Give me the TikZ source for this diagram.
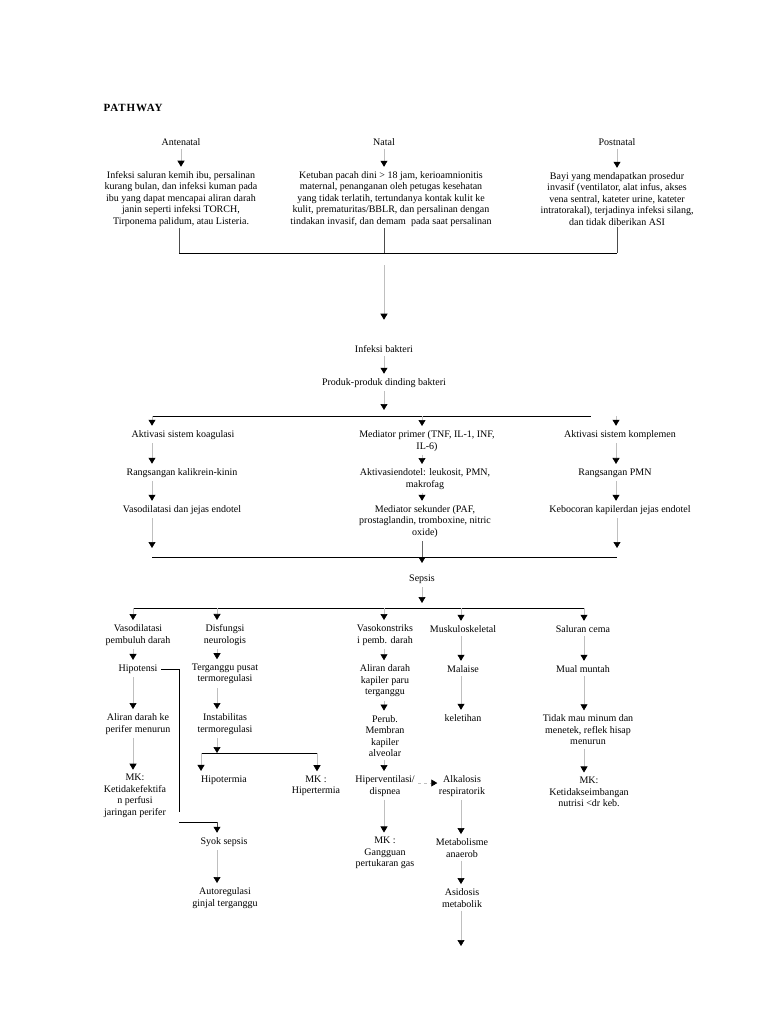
\documentclass[tikz,border=0pt]{standalone}
\usepackage{fontspec}
\setmainfont{Liberation Serif}
\usetikzlibrary{arrows.meta}
\begin{document}
\begin{tikzpicture}[x=1pt,y=-1pt,
  txt/.style={font=\fontsize{10}{11.5}\selectfont, align=center, inner sep=1.5pt},
  arr/.style={draw=black!25, line width=0.6pt, -{Triangle[length=6pt,width=7pt,fill=black,color=black]}, shorten >=3pt, shorten <=2pt},
  darr/.style={arr, dashed},
  bar/.style={draw=black, line width=0.9pt},
  vbar/.style={draw=black!70, line width=1pt},
]
\useasboundingbox[fill=white] (0,0) rectangle (768,1024);

% ---------- top ----------
\node[txt, font=\fontsize{11}{13}\selectfont\bfseries\addfontfeatures{LetterSpace=8}, anchor=west] (pw) at (102,108) {PATHWAY};

\node[txt] (ante)  at (181,142) {Antenatal};
\node[txt] (natal) at (384,142) {Natal};
\node[txt] (post)  at (617,142) {Postnatal};

\node[txt] (anteT) at (181,199) {Infeksi saluran kemih ibu, persalinan\\kurang bulan, dan infeksi kuman pada\\ibu yang dapat mencapai aliran darah\\janin seperti infeksi TORCH,\\Tirponema palidum, atau Listeria.};
\node[txt] (natalT) at (391,199) {Ketuban pacah dini > 18 jam, kerioamnionitis\\maternal, penanganan oleh petugas kesehatan\\yang tidak terlatih, tertundanya kontak kulit ke\\kulit, prematuritas/BBLR, dan persalinan dengan\\tindakan invasif, dan demam\ \ pada saat persalinan};
\node[txt] (postT) at (617,199) {Bayi yang mendapatkan prosedur\\invasif (ventilator, alat infus, akses\\vena sentral, kateter urine, kateter\\intratorakal), terjadinya infeksi silang,\\dan tidak diberikan ASI};

\draw[arr] (ante) -- (anteT);
\draw[arr] (natal.south) -- (natal.south |- natalT.north);
\draw[arr] (post) -- (postT);

\coordinate (b1L) at (179,253);
\coordinate (b1M) at (384,253);
\coordinate (b1R) at (617,253);
\draw[vbar] (anteT.south -| b1L) -- (b1L);
\draw[vbar] (natalT.south -| b1M) -- (b1M);
\draw[vbar] (postT.south -| b1R) -- (b1R);
\draw[bar] (b1L) -- (b1R);

\coordinate (c1) at (384,265);
\node[txt] (ib) at (384,349) {Infeksi bakteri};
\node[txt] (pd) at (384,383) {Produk-produk dinding bakteri};
\draw[arr, shorten >=24pt, shorten <=0pt] (c1) -- (ib.north);
\draw[arr] (ib) -- (pd);

% ---------- second level ----------
\coordinate (xL) at (152,0);
\coordinate (xM) at (422,0);
\coordinate (xR) at (616,0);
\coordinate (b2L) at (152,416);
\coordinate (b2R) at (591,416);
\draw[arr, shorten >=6pt] (pd.south) -- (pd.south |- b2L);
\draw[bar] (b2L) -- (b2R);

\node[txt] (ak)  at (183,435) {Aktivasi sistem koagulasi};
\node[txt] (rk)  at (182,473) {Rangsangan kalikrein-kinin};
\node[txt] (vd)  at (182,510) {Vasodilatasi dan jejas endotel};
\node[txt] (mp)  at (427,441) {Mediator primer (TNF, IL-1, INF,\\IL-6)};
\node[txt] (ae)  at (425,479) {Aktivasiendotel: leukosit, PMN,\\makrofag};
\node[txt] (ms)  at (425,521.5) {Mediator sekunder (PAF,\\prostaglandin, tromboxine, nitric\\oxide)};
\node[txt] (akk) at (620,435) {Aktivasi sistem komplemen};
\node[txt] (rp)  at (615,473) {Rangsangan PMN};
\node[txt] (kb)  at (620,510) {Kebocoran kapilerdan jejas endotel};

\draw[arr, shorten <=0pt] (b2L) -- (ak.north -| xL);
\draw[arr, shorten <=0pt] (b2L -| xM) -- (mp.north -| xM);
\draw[arr, shorten <=0pt] (b2L -| xR) -- (akk.north -| xR);

\draw[arr] (ak.south -| xL) -- (rk.north -| xL);
\draw[arr] (rk.south -| xL) -- (vd.north -| xL);
\draw[arr] (mp.south -| xM) -- (ae.north -| xM);
\draw[arr] (ae.south -| xM) -- (ms.north -| xM);
\draw[arr] (akk.south -| xR) -- (rp.north -| xR);
\draw[arr] (rp.south -| xR) -- (kb.north -| xR);

\coordinate (b3L) at (152,557);
\coordinate (b3R) at (617,557);
\draw[bar] (b3L) -- (b3R);
\draw[arr, shorten >=9pt] (vd.south -| xL) -- (b3L);
\draw[arr, shorten >=9pt] (kb.south -| b3R) -- (b3R);
\draw[arr, draw=black!60, shorten >=0pt] (ms.south -| xM) -- ([yshift=-6pt]b3L -| xM);

\node[txt] (sp) at (422,579) {Sepsis};
\coordinate (b4L) at (133,608);
\coordinate (b4R) at (585,608);
\draw[arr, shorten >=5pt] (sp.south) -- (sp.south |- b4L);
\draw[bar] (b4L) -- (b4R);

% ---------- third level ----------
\coordinate (xA) at (133,0);
\coordinate (xB) at (217,0);
\coordinate (xC) at (384,0);
\coordinate (xD) at (461,0);
\coordinate (xE) at (584,0);

\node[txt] (vp)  at (138,635) {Vasodilatasi\\pembuluh darah};
\node[txt] (hip) at (138,669) {Hipotensi};
\node[txt] (adk) at (138,724) {Aliran darah ke\\perifer menurun};
\node[txt] (mk1) at (135,796) {MK:\\Ketidakefektifa\\n perfusi\\jaringan perifer};

\node[txt] (df)  at (225,635) {Disfungsi\\neurologis};
\node[txt] (tp)  at (225,674) {Terganggu pusat\\termoregulasi};
\node[txt] (it)  at (225,724) {Instabilitas\\termoregulasi};
\node[txt] (hpo) at (224,780) {Hipotermia};
\node[txt] (mk2) at (316,786) {MK :\\Hipertermia};
\node[txt] (ss)  at (224,842) {Syok sepsis};
\node[txt] (ag)  at (225,898) {Autoregulasi\\ginjal terganggu};

\node[txt] (vk)  at (385,635) {Vasokonstriks\\i pemb. darah};
\node[txt] (adp) at (385,681) {Aliran darah\\kapiler paru\\terganggu};
\node[txt] (pm)  at (385,736) {Perub.\\Membran\\kapiler\\alveolar};
\node[txt] (hv)  at (385,786) {Hiperventilasi/\\dispnea};
\node[txt] (mk3) at (385,853) {MK :\\Gangguan\\pertukaran gas};

\node[txt] (mu)  at (463,629) {Muskuloskeletal};
\node[txt] (ml)  at (463,669) {Malaise};
\node[txt] (kl)  at (463,718) {keletihan};
\node[txt] (al)  at (462,786) {Alkalosis\\respiratorik};
\node[txt] (ma)  at (462,848) {Metabolisme\\anaerob};
\node[txt] (as)  at (462,898) {Asidosis\\metabolik};
\coordinate (endD) at (461,946);

\node[txt] (sc)  at (583,629) {Saluran cema};
\node[txt] (mm)  at (583,669) {Mual muntah};
\node[txt] (tm)  at (588,730) {Tidak mau minum dan\\menetek, reflek hisap\\menurun};
\node[txt] (mk4) at (589,792) {MK:\\Ketidakseimbangan\\nutrisi <dr keb.};

% branch arrows from Sepsis bar
\draw[arr, shorten <=0pt] (b4L) -- (vp.north -| xA);
\draw[arr, shorten <=0pt] (b4L -| xB) -- (df.north -| xB);
\draw[arr, shorten <=0pt] (b4L -| xC) -- (vk.north -| xC);
\draw[arr, shorten <=0pt] (b4L -| xD) -- (mu.north -| xD);
\draw[arr, shorten <=0pt] (b4L -| xE) -- (sc.north -| xE);

% column A
\draw[arr] (vp.south -| xA) -- (hip.north -| xA);
\draw[arr] (hip.south -| xA) -- (adk.north -| xA);
\draw[arr] (adk.south -| xA) -- (mk1.north -| xA);
\coordinate (hA) at (179,812);
\coordinate (hB) at (179,822);
\draw[bar] ([xshift=2pt]hip.east) -| (hA);
\draw[bar] (hB) -- (hB -| xB);
\draw[arr, draw=black!70, shorten <=0pt] (hB -| xB) -- (ss.north -| xB);
\draw[arr] (ss.south -| xB) -- (ag.north -| xB);

% column B
\coordinate (t1) at (201,753);
\coordinate (t2) at (317,753);
\draw[arr] (df.south -| xB) -- (tp.north -| xB);
\draw[arr] (tp.south -| xB) -- (it.north -| xB);
\draw[arr, shorten >=0pt] (it.south -| xB) -- (t1 -| xB);
\draw[bar] (t1) -- (t2);
\draw[arr, shorten <=0pt] (t1) -- (hpo.north -| t1);
\draw[arr, shorten <=0pt] (t2) -- (mk2.north -| t2);

% column C
\draw[arr] (vk.south -| xC) -- (adp.north -| xC);
\draw[arr] (adp.south -| xC) -- (pm.north -| xC);
\draw[arr] (pm.south -| xC) -- (hv.north -| xC);
\draw[arr] (hv.south -| xC) -- (mk3.north -| xC);
\draw[darr, shorten >=0pt] ([yshift=3pt]hv.east) -- ([yshift=3pt]hv.east -| al.west);

% column D
\draw[arr] (mu.south -| xD) -- (ml.north -| xD);
\draw[arr] (ml.south -| xD) -- (kl.north -| xD);
\draw[arr] (al.south -| xD) -- (ma.north -| xD);
\draw[arr] (ma.south -| xD) -- (as.north -| xD);
\draw[arr, shorten >=0pt] (as.south -| xD) -- (endD);

% column E
\draw[arr] (sc.south -| xE) -- (mm.north -| xE);
\draw[arr] (mm.south -| xE) -- (tm.north -| xE);
\draw[arr] (tm.south -| xE) -- (mk4.north -| xE);
\end{tikzpicture}
\end{document}
